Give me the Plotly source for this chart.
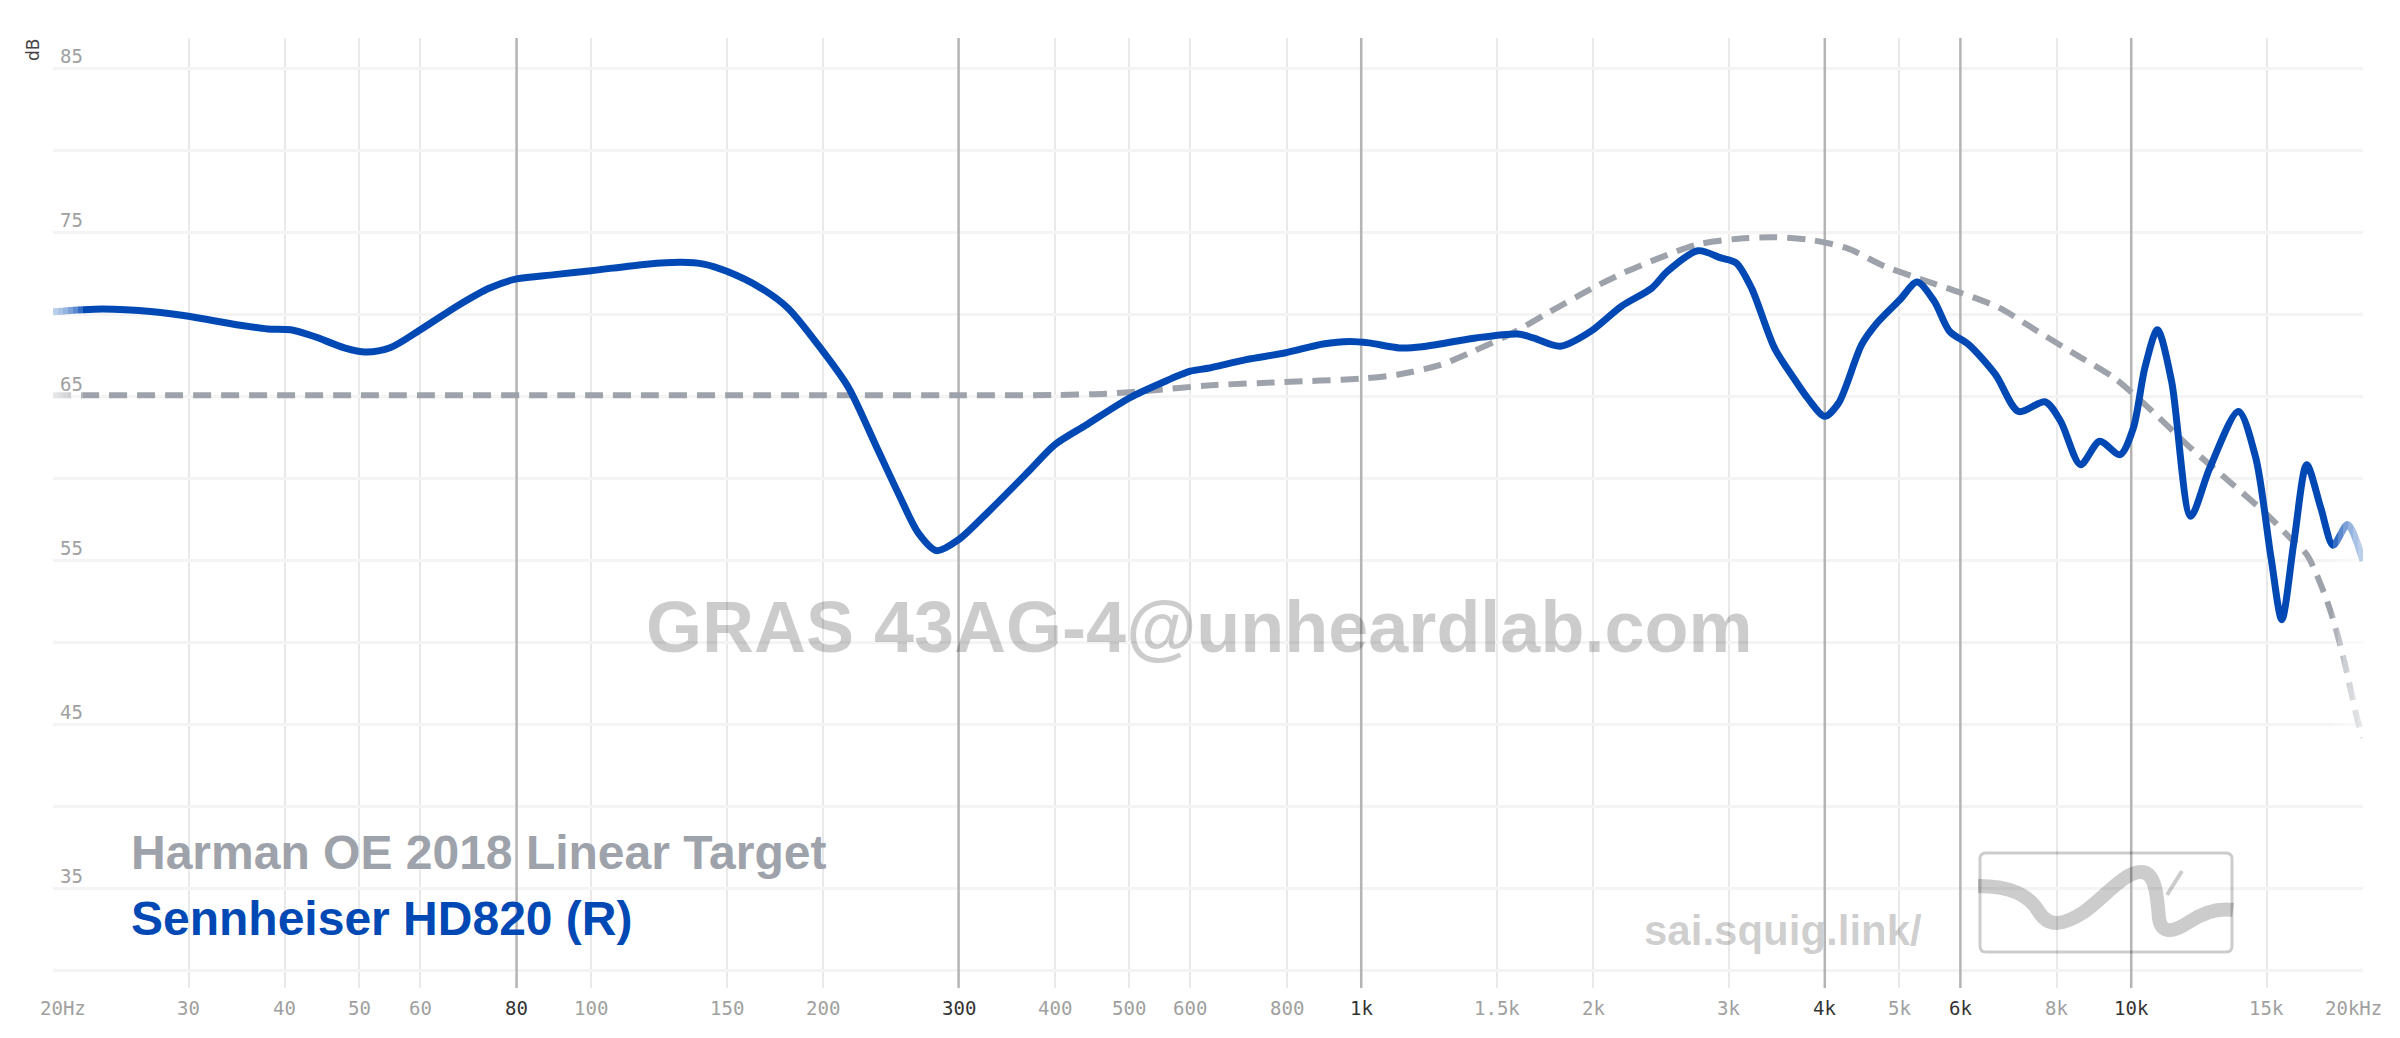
import math
import plotly.graph_objects as go

# ---------------- data ----------------
hd820_freq = [20, 23.2, 27, 30, 35, 38, 40.7, 43.6, 47.8, 50.9, 54.8, 60, 67.4, 73.8, 80, 89.6, 100,
              118, 131, 140, 150, 166, 180, 200, 216, 234, 251, 266, 281, 300, 330, 370, 400, 440,
              500, 553, 600, 632, 709, 795, 892, 966, 1023, 1121, 1200, 1409, 1598, 1673, 1813,
              1986, 2177, 2386, 2498, 2737, 2931, 3069, 3212, 3441, 3644, 3804, 4000, 4169, 4466,
              4676, 5007, 5272, 5550, 5810, 6152, 6665, 7138, 7734, 8097, 8594, 9100, 9670, 10064,
              10416, 10816, 11284, 11946, 12648, 13780, 14514, 15193, 15688, 16272, 16902, 17630,
              18290, 19100, 20000]
hd820_db = [70.2, 70.37, 70.2, 69.92, 69.37, 69.15, 69.1, 68.7, 68.0, 67.74, 68.0, 69.1, 70.63, 71.65,
            72.2, 72.46, 72.7, 73.1, 73.21, 73.1, 72.66, 71.65, 70.43, 67.78, 65.55, 62.09, 59.04,
            56.7, 55.63, 56.3, 58.13, 60.47, 62.09, 63.31, 64.94, 65.9, 66.57, 66.75, 67.28, 67.68,
            68.23, 68.39, 68.3, 67.99, 68.06, 68.6, 68.84, 68.6, 68.09, 69.0, 70.53, 71.65, 72.66,
            73.92, 73.48, 73.17, 71.65, 67.99, 66.16, 64.9, 63.82, 64.63, 68.19, 69.51, 70.93, 72.01,
            70.83, 69.0, 68.19, 66.36, 64.12, 64.7, 63.52, 60.87, 62.3, 61.48, 63.11, 66.77, 69.1,
            65.95, 57.73, 60.67, 64.12, 61.28, 55.18, 51.42, 56.2, 60.87, 58.23, 55.96, 57.22, 55.0]

target_freq = [20, 50, 100, 200, 300, 400, 467, 535, 632, 792, 1000, 1114, 1270, 1397, 1563, 1747,
               2000, 2189, 2441, 2727, 3088, 3448, 3804, 4266, 4782, 5272, 6014, 6744, 7560, 8476,
               9506, 10654, 11946, 13398, 15018, 16088, 16902, 17630, 18246, 18886, 19700, 20000]
target_db = [65.1, 65.1, 65.1, 65.1, 65.1, 65.12, 65.2, 65.4, 65.7, 65.91, 66.12, 66.36, 66.97, 67.78,
             68.84, 70.12, 71.65, 72.56, 73.48, 74.29, 74.65, 74.74, 74.6, 74.09, 72.97, 72.26, 71.34,
             70.43, 69.0, 67.58, 66.16, 64.12, 61.89, 59.86, 57.82, 56.4, 55.4, 53.56, 51.6, 49.0,
             45.2, 44.2]

x_tick_freqs = [20, 30, 40, 50, 60, 80, 100, 150, 200, 300, 400, 500, 600, 800, 1000, 1500, 2000,
                3000, 4000, 5000, 6000, 8000, 10000, 15000, 20000]
x_tick_labels = ["20Hz", "30", "40", "50", "60", "80", "100", "150", "200", "300", "400", "500",
                 "600", "800", "1k", "1.5k", "2k", "3k", "4k", "5k", "6k", "8k", "10k", "15k", "20kHz"]
x_major_freqs = [80, 300, 1000, 4000, 6000, 10000]
y_grid_vals = [30, 35, 40, 45, 50, 55, 60, 65, 70, 75, 80, 85]
y_label_vals = [85, 75, 65, 55, 45, 35]
y_range = [28.96, 86.89]

target_name = "Harman OE 2018 Linear Target"
phone_name = "Sennheiser HD820 (R)"
watermark = "GRAS 43AG-4@unheardlab.com"
site = "sai.squig.link/"

# ---------------- layout geometry ----------------
W, H = 2400, 1038
ML, MR, MT, MB = 45, 45, 30, 58
PW, PH = W - ML - MR, H - MT - MB


def px(X):
    return (X - ML) / PW


def py(Y):
    return 1 - (Y - MT) / PH


BLUE = "#0049b5"
GREY = "#9ea2aa"
MONO = "DejaVu Sans Mono"
SANS = "Liberation Sans"

fig = go.Figure()

# darker major grid lines, drawn through the axes
gx, gy = [], []
for f in x_major_freqs:
    gx += [f, f, None]
    gy += [y_range[0], y_range[1], None]
fig.add_trace(go.Scatter(x=gx, y=gy, mode="lines", hoverinfo="skip",
                         line=dict(color="#b4b4b4", width=2.5)))

fig.add_trace(go.Scatter(x=target_freq, y=target_db, mode="lines", hoverinfo="skip",
                         line=dict(color=GREY, width=6, dash="18px,10px", shape="spline",
                                   smoothing=0.8)))
fig.add_trace(go.Scatter(x=hd820_freq, y=hd820_db, mode="lines", hoverinfo="skip",
                         line=dict(color=BLUE, width=7, shape="spline", smoothing=0.8)))

light_freqs = [f for f in x_tick_freqs if f not in x_major_freqs and f not in (20, 20000)]

shapes = []
# edge fades (only over the curve ends)
for i in range(6):
    w = 5 * (6 - i)
    shapes.append(dict(type="rect", xref="paper", yref="y", x0=px(ML - 2), x1=px(ML + w),
                       y0=62.5, y1=72.5, fillcolor="rgba(255,255,255,0.2)", line=dict(width=0),
                       layer="above"))
    shapes.append(dict(type="rect", xref="paper", yref="y", x0=px(W - MR - w), x1=px(W - MR + 2),
                       y0=42.0, y1=59.0, fillcolor="rgba(255,255,255,0.2)", line=dict(width=0),
                       layer="above"))

# logo (decoration)
def path(cmds, dx=-9, dy=-8):
    out = []
    for c in cmds:
        if isinstance(c, str):
            out.append(c)
        else:
            out.append(f"{px(c[0] + dx):.5f},{py(c[1] + dy):.5f}")
    return " ".join(out)

r = 6
x0, x1, y0, y1 = 1981, 2233, 853, 952
rect_cmds = ["M", (x0 + r, y0), "L", (x1 - r, y0), "Q", (x1, y0), (x1, y0 + r), "L", (x1, y1 - r),
             "Q", (x1, y1), (x1 - r, y1), "L", (x0 + r, y1), "Q", (x0, y1), (x0, y1 - r),
             "L", (x0, y0 + r), "Q", (x0, y0), (x0 + r, y0), "Z"]
shapes.append(dict(type="path", xref="paper", yref="paper", path=path(rect_cmds),
                   line=dict(color="rgba(0,0,0,0.2)", width=3), layer="above"))
squig = ["M", (1979, 886), "C", (2012, 886), (2030, 895), (2040, 912), "C", (2050, 928), (2065, 925),
         (2085, 912), "C", (2105, 898), (2125, 872), (2142, 872), "C", (2158, 872), (2158, 900),
         (2160, 918), "C", (2162, 935), (2175, 932), (2190, 922), "C", (2205, 912), (2220, 908),
         (2234, 910)]
shapes.append(dict(type="path", xref="paper", yref="paper", path=path(squig),
                   line=dict(color="rgba(0,0,0,0.2)", width=14), layer="above"))
shapes.append(dict(type="path", xref="paper", yref="paper",
                   path=path(["M", (2168, 895), "L", (2183, 871)]),
                   line=dict(color="rgba(0,0,0,0.2)", width=4), layer="above"))

annotations = []
for f, t in zip(x_tick_freqs, x_tick_labels):
    col = "#333333" if f in x_major_freqs else "#a0a0a0"
    a = dict(xref="x", yref="paper", x=math.log10(f), y=py(1000), text=t, showarrow=False,
             font=dict(family=MONO, size=19, color=col), xanchor="center", yanchor="middle")
    if f == 20:
        a.update(xref="paper", x=px(30), xanchor="left")
    if f == 20000:
        a.update(xref="paper", x=px(2376), xanchor="right")
    annotations.append(a)

for v in y_label_vals:
    annotations.append(dict(xref="paper", yref="y", x=px(50), y=v, yshift=13, text=str(v),
                            showarrow=False, xanchor="left", yanchor="middle",
                            font=dict(family=MONO, size=19, color="#a0a0a0")))

annotations.append(dict(xref="paper", yref="paper", x=px(25), y=py(42), text="dB", textangle=-90,
                        showarrow=False, xanchor="center", yanchor="middle",
                        font=dict(family="DejaVu Sans", size=17, color="#444444")))

annotations.append(dict(xref="paper", yref="paper", x=px(1191), y=py(619), text=f"<b>{watermark}</b>",
                        showarrow=False, xanchor="center", yanchor="middle",
                        font=dict(family=SANS, size=72, color="rgba(0,0,0,0.2)")))
annotations.append(dict(xref="paper", yref="paper", x=px(121), y=py(844), text=f"<b>{target_name}</b>",
                        showarrow=False, xanchor="left", yanchor="middle",
                        font=dict(family=SANS, size=48, color=GREY)))
annotations.append(dict(xref="paper", yref="paper", x=px(121), y=py(910), text=f"<b>{phone_name}</b>",
                        showarrow=False, xanchor="left", yanchor="middle",
                        font=dict(family=SANS, size=48, color=BLUE)))
annotations.append(dict(xref="paper", yref="paper", x=px(1775), y=py(922), text=f"<b>{site}</b>",
                        showarrow=False, xanchor="center", yanchor="middle",
                        font=dict(family=SANS, size=42, color="rgba(0,0,0,0.2)")))

fig.update_layout(
    width=W, height=H, margin=dict(l=ML, r=MR, t=MT, b=MB),
    paper_bgcolor="white", plot_bgcolor="white", showlegend=False,
    xaxis=dict(type="log", range=[math.log10(20), math.log10(20000)], tickvals=light_freqs,
               showticklabels=False, ticks="", showgrid=True, gridcolor="#e9e9e9", gridwidth=2,
               zeroline=False, showline=False, fixedrange=True),
    yaxis=dict(range=y_range, tickvals=y_grid_vals, showticklabels=False, ticks="",
               showgrid=True, gridcolor="#f4f4f4", gridwidth=3, zeroline=False, showline=False,
               fixedrange=True),
    shapes=shapes, annotations=annotations,
)

fig.write_html("out.html")
